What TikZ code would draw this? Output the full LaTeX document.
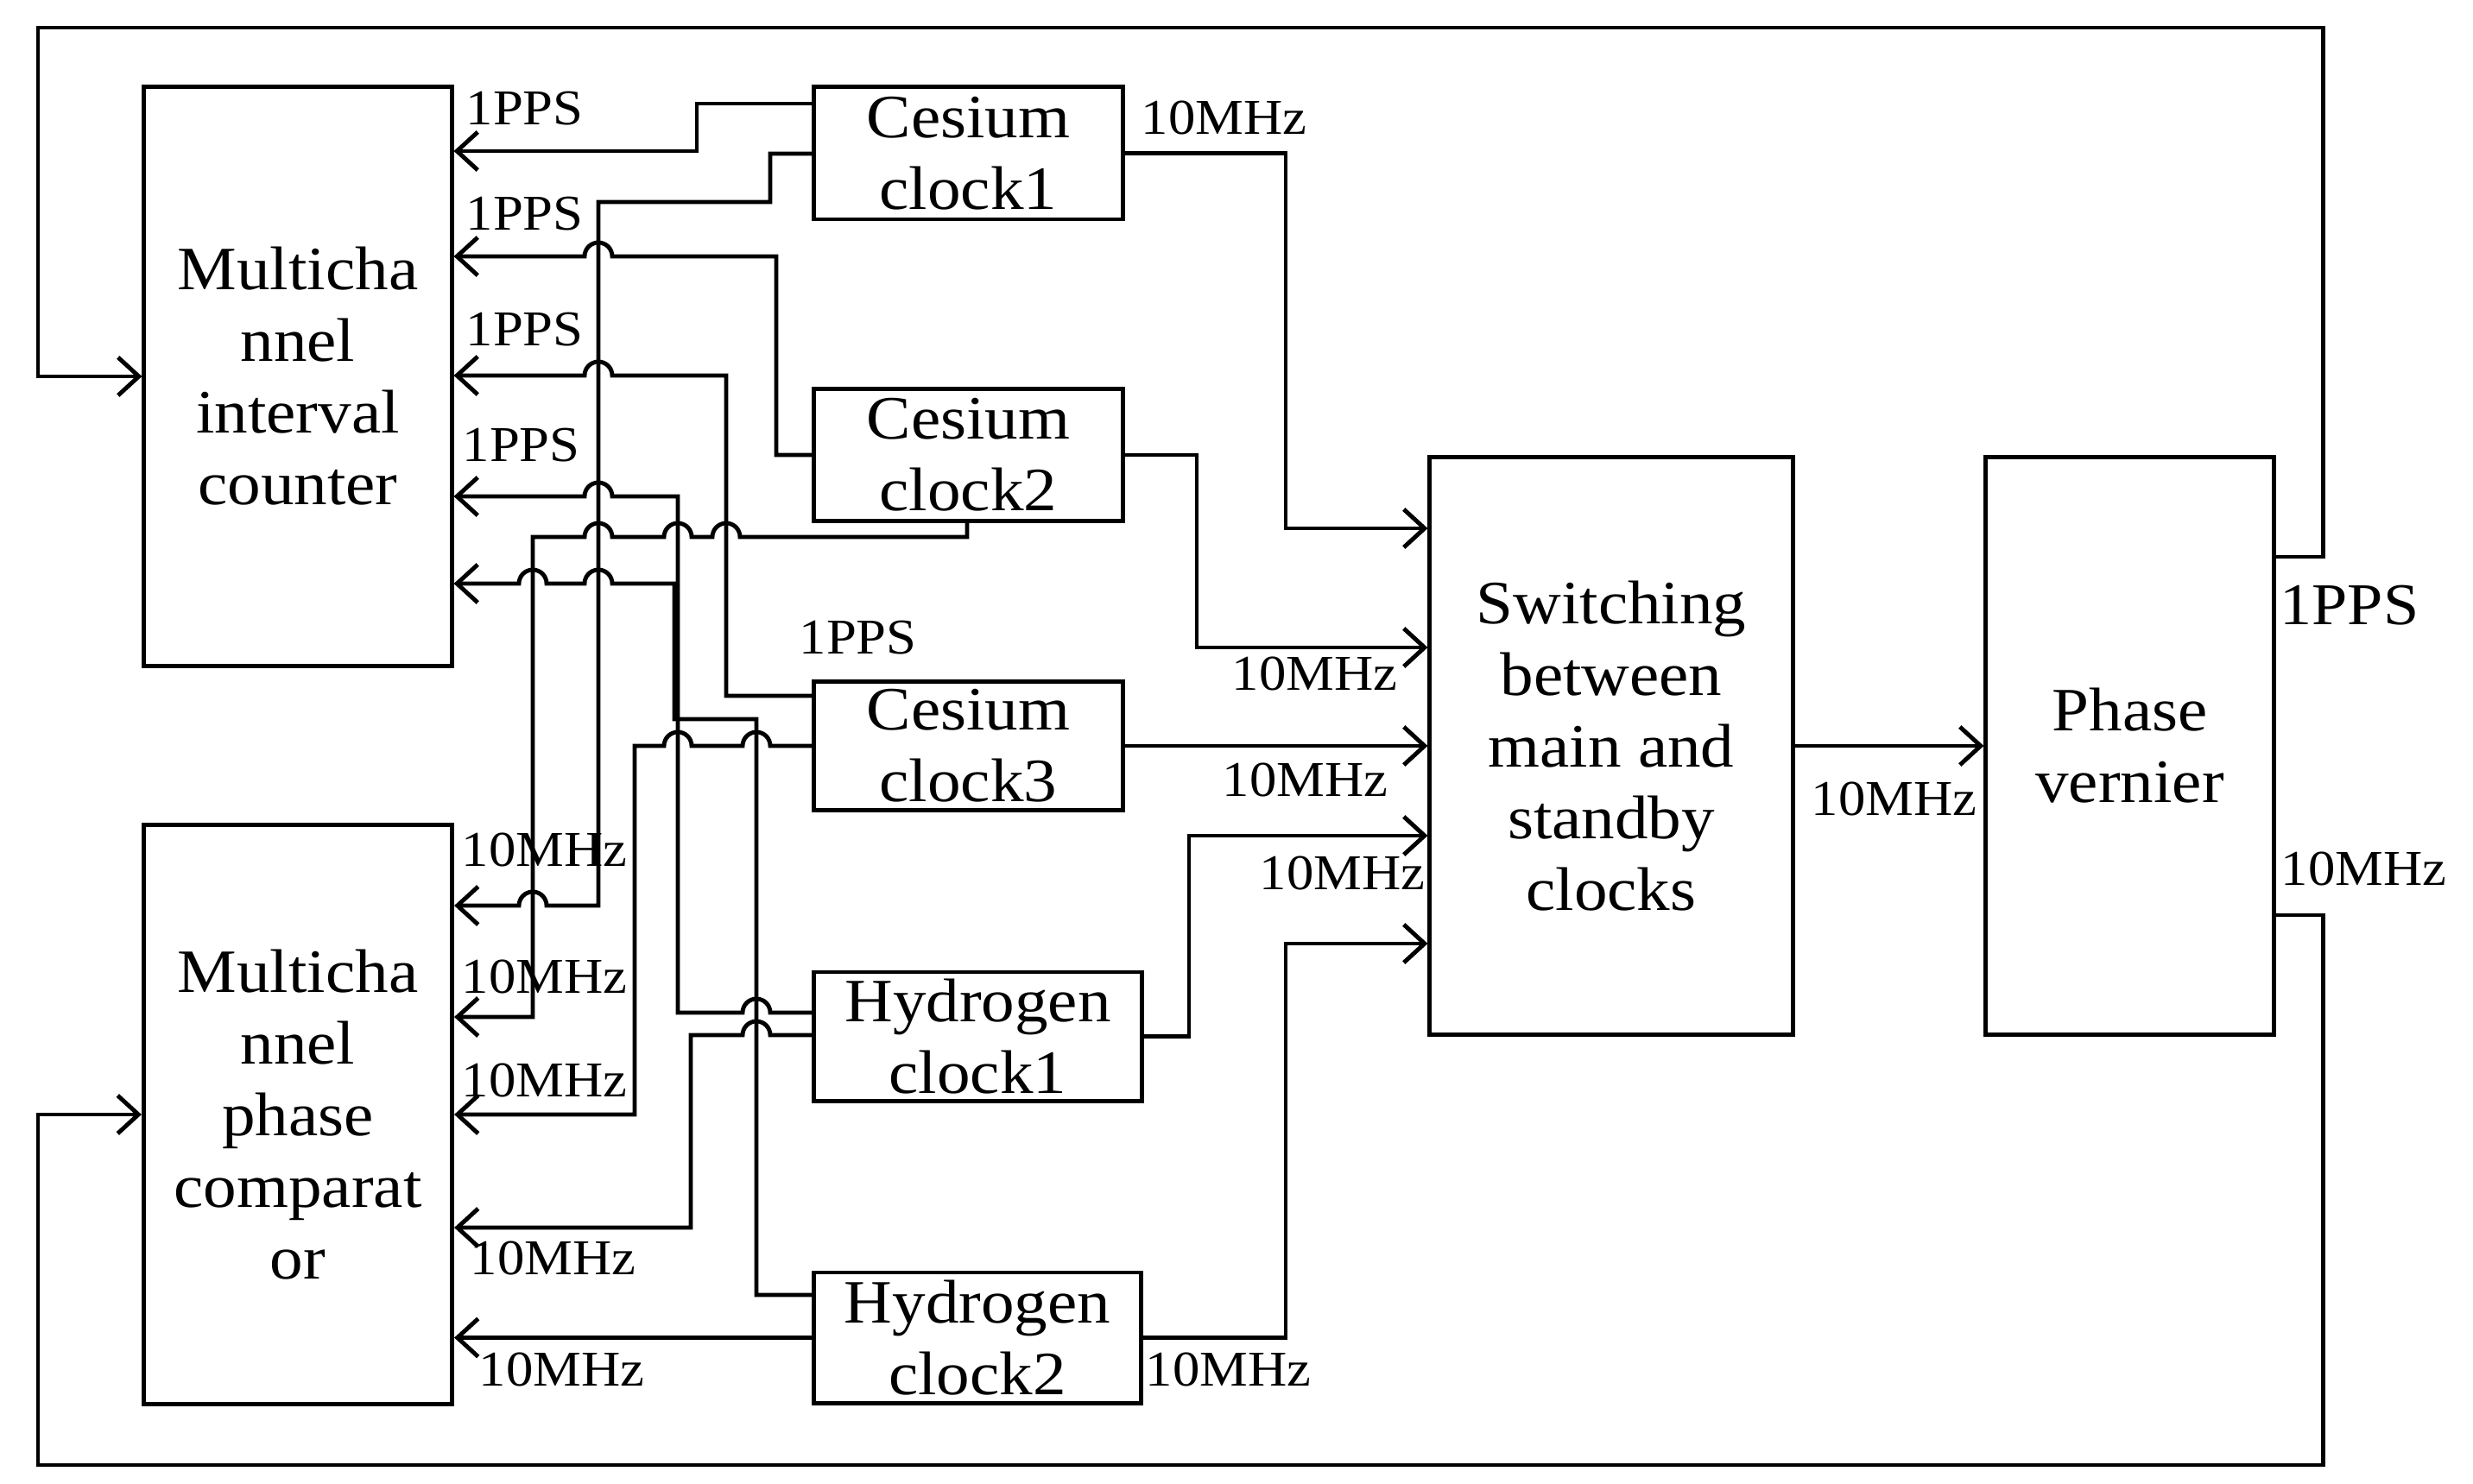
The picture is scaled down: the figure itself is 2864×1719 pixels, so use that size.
\documentclass[tikz,border=0pt]{standalone}
\usepackage{fontspec}
\setmainfont{Liberation Serif}[FakeStretch=1.08]
\usetikzlibrary{arrows.meta}
\newcommand\boxfont{\fontsize{20.3}{23.6}\selectfont}
\newcommand\lblfont{\fontsize{16.5}{19}\selectfont}
% crossing: wire jumps over a vertical line at x=#1
\newcommand\wirehop[2]{-- ({#1+16},#2) arc[start angle=0,end angle=180,radius=0.16cm]}

\begin{document}
\begin{tikzpicture}[x=0.01cm,y=-0.01cm,
  blk/.style={draw,line width=1.4pt,inner sep=0pt,align=center,font=\boxfont},
  wire/.style={line width=1.4pt},
  sig/.style={wire,-{Straight Barb[length=0.24cm,width=0.44cm]}},
  lbl/.style={anchor=base west,inner sep=0pt,font=\lblfont}]
\useasboundingbox (0,0) rectangle (2864,1719);

\node[blk,minimum width=3.56cm,minimum height=6.7cm] (cnt) at (345,436) {Multicha\\nnel\\interval\\counter};
\node[blk,minimum width=3.57cm,minimum height=6.7cm] (cmp) at (345,1291) {Multicha\\nnel\\phase\\comparat\\or};
\node[blk,minimum width=3.57cm,minimum height=1.53cm] (cs1) at (1121.5,177.5) {Cesium\\clock1};
\node[blk,minimum width=3.57cm,minimum height=1.52cm] (cs2) at (1121.5,527) {Cesium\\clock2};
\node[blk,minimum width=3.57cm,minimum height=1.49cm] (cs3) at (1121.5,864) {Cesium\\clock3};
\node[blk,minimum width=3.79cm,minimum height=1.49cm] (hy1) at (1132.5,1200.5) {Hydrogen\\clock1};
\node[blk,minimum width=3.78cm,minimum height=1.51cm] (hy2) at (1132,1549.5) {Hydrogen\\clock2};
\node[blk,minimum width=4.2cm,minimum height=6.68cm] (sw) at (1866,864) {Switching\\between\\main and\\standby\\clocks};
\node[blk,minimum width=3.33cm,minimum height=6.68cm] (pv) at (2466.5,864) {Phase\\vernier};

% 10MHz into the switch
\draw[sig] (cs1.east) -| (1489,612) -- (sw.west|-0,612);
\draw[sig] (cs2.east) -| (1386,750) -- (sw.west|-0,750);
\draw[sig] (cs3.east) -- (sw.west|-cs3.east);
\draw[sig] (hy1.east) -| (1377,968) -- (sw.west|-0,968);
\draw[sig] (hy2.east) -| (1489,1093) -- (sw.west|-0,1093);
\draw[sig] (sw.east) -- (pv.west);

% loops back from the vernier
\draw[sig] (pv.east|-0,645) -| (2690,32) -| (44,436) -- (cnt.west);
\draw[sig] (pv.east|-0,1060) -| (2690,1697) -| (44,1291) -- (cmp.west);

% 1PPS to the counter
\draw[sig] (cs1.west|-0,120) -| (807,175) -- (cnt.east|-0,175);
\draw[sig] (cs2.west) -| (899,297) \wirehop{693}{297} -- (cnt.east|-0,297);
\draw[sig] (cs3.west|-0,806) -| (841,435) \wirehop{693}{435} -- (cnt.east|-0,435);
\draw[sig] (hy1.west|-0,1173) \wirehop{876}{1173} -| (785,575) \wirehop{693}{575} -- (cnt.east|-0,575);
\draw[sig] (hy2.west|-0,1500) -| (876,833) -| (781,676) \wirehop{693}{676} \wirehop{617}{676} -- (cnt.east|-0,676);

% 10MHz to the comparator
\draw[sig] (cs1.west|-0,178) -| (892,234) -| (693,1049) \wirehop{617}{1049} -- (cmp.east|-0,1049);
\draw[sig] (cs2.south-|1120,0) -- (1120,622) \wirehop{841}{622} \wirehop{785}{622} \wirehop{693}{622} -| (617,1178) -- (cmp.east|-0,1178);
\draw[sig] (cs3.west) \wirehop{876}{864} \wirehop{785}{864} -| (735,1291) -- (cmp.east);
\draw[sig] (hy1.west|-0,1199) \wirehop{876}{1199} -| (800,1422) -- (cmp.east|-0,1422);
\draw[sig] (hy2.west) -- (cmp.east|-hy2.west);

% labels
\node[lbl] (p1) at (539,145) {1PPS};
\node[lbl] (p2) at (539,267) {1PPS};
\node[lbl] (p3) at (539,401) {1PPS};
\node[lbl] (p4) at (535,535) {1PPS};
\node[lbl] (p5) at (925,758) {1PPS};
\node[lbl] (m1) at (534,1003) {10MHz};
\node[lbl] (m2) at (534,1150) {10MHz};
\node[lbl] (m3) at (534,1270) {10MHz};
\node[lbl] (m4) at (544,1476) {10MHz};
\node[lbl] (m5) at (554,1605) {10MHz};
\node[lbl] (s1) at (1321,156) {10MHz};
\node[lbl] (s2) at (1426,799) {10MHz};
\node[lbl] (s3) at (1415,922) {10MHz};
\node[lbl] (s4) at (1458,1030) {10MHz};
\node[lbl] (s5) at (1326,1605) {10MHz};
\node[lbl] (sp) at (2097,944) {10MHz};
\node[lbl] (vm) at (2641,1025) {10MHz};
\node[lbl,font=\fontsize{19.5}{22}\selectfont] (vp) at (2640,723) {1PPS};
\end{tikzpicture}
\end{document}
